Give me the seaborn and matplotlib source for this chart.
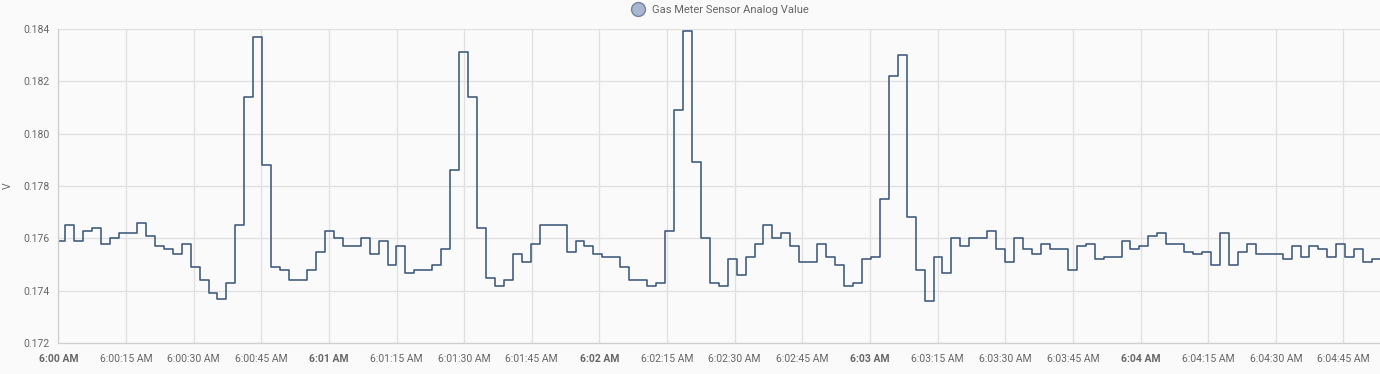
import numpy as np
import pandas as pd
import matplotlib
matplotlib.use("Agg")
import matplotlib.pyplot as plt
import seaborn as sns
from matplotlib.lines import Line2D

# ---- data ----
series_name = "Gas Meter Sensor Analog Value"
values = [
    0.1759, 0.1765, 0.1759, 0.1763, 0.1764, 0.1758, 0.1760, 0.1762, 0.1762, 0.1766,
    0.1761, 0.1757, 0.1756, 0.1754, 0.1758, 0.1749, 0.1744, 0.1739, 0.1737, 0.1743,
    0.1765, 0.1814, 0.1837, 0.1788, 0.1749, 0.1748, 0.1744, 0.1744, 0.1748, 0.1755,
    0.1763, 0.1760, 0.1757, 0.1757, 0.1760, 0.1754, 0.1759, 0.1750, 0.1757, 0.1747,
    0.1748, 0.1748, 0.1750, 0.1756, 0.1786, 0.1831, 0.1814, 0.1764, 0.1745, 0.1742,
    0.1744, 0.1754, 0.1751, 0.1758, 0.1765, 0.1765, 0.1765, 0.1755, 0.1759, 0.1757,
    0.1754, 0.1753, 0.1753, 0.1749, 0.1744, 0.1744, 0.1742, 0.1743, 0.1763, 0.1809,
    0.1839, 0.1789, 0.1760, 0.1743, 0.1742, 0.1752, 0.1746, 0.1753, 0.1758, 0.1765,
    0.1760, 0.1762, 0.1757, 0.1751, 0.1751, 0.1758, 0.1753, 0.1750, 0.1742, 0.1743,
    0.1752, 0.1753, 0.1775, 0.1822, 0.1830, 0.1768, 0.1748, 0.1736, 0.1753, 0.1747,
    0.1760, 0.1757, 0.1760, 0.1760, 0.1763, 0.1756, 0.1751, 0.1760, 0.1756, 0.1754,
    0.1758, 0.1756, 0.1756, 0.1748, 0.1757, 0.1758, 0.1752, 0.1753, 0.1753, 0.1759,
    0.1756, 0.1757, 0.1761, 0.1762, 0.1758, 0.1758, 0.1755, 0.1754, 0.1755, 0.1750,
    0.1762, 0.1750, 0.1755, 0.1758, 0.1754, 0.1754, 0.1754, 0.1752, 0.1757, 0.1753,
    0.1757, 0.1756, 0.1753, 0.1758, 0.1753, 0.1756, 0.1751, 0.1752,
]
first_change = 1.55      # seconds after 6:00:00
sample_interval = 1.985  # seconds
window_end = 293.1       # seconds shown

x_ticks = list(range(0, 286, 15))
x_labels = ["6:00 AM", "6:00:15 AM", "6:00:30 AM", "6:00:45 AM",
            "6:01 AM", "6:01:15 AM", "6:01:30 AM", "6:01:45 AM",
            "6:02 AM", "6:02:15 AM", "6:02:30 AM", "6:02:45 AM",
            "6:03 AM", "6:03:15 AM", "6:03:30 AM", "6:03:45 AM",
            "6:04 AM", "6:04:15 AM", "6:04:30 AM", "6:04:45 AM"]
y_ticks = [0.172, 0.174, 0.176, 0.178, 0.180, 0.182, 0.184]

times = [0.0] + [first_change + sample_interval * k for k in range(len(values) - 1)]
times.append(window_end)
vals = values + [values[-1]]
df = pd.DataFrame({"t": times, "v": vals})

# ---- style ----
sns.set_theme(style="whitegrid")
plt.rcParams["font.family"] = ["Roboto", "DejaVu Sans"]
bg = "#fafafa"
grid_c = "#e0e0e0"
text_c = "#666666"
line_c = "#3d5878"

fig = plt.figure(figsize=(13.8, 3.74), dpi=100, facecolor=bg)
ax = fig.add_axes([58.3 / 1380, 1 - 343.3 / 374, 1 - 58.3 / 1380, (343.3 - 28.7) / 374])
ax.set_facecolor(bg)

sns.lineplot(data=df, x="t", y="v", ax=ax, drawstyle="steps-post",
             color=line_c, linewidth=1.15, estimator=None, sort=False)

ax.set_xlim(0, window_end)
ax.set_ylim(0.172, 0.184)
ax.set_xticks(x_ticks)
ax.set_xticklabels(x_labels)
for lbl in ax.get_xticklabels():
    if lbl.get_text().count(":") == 1:
        lbl.set_fontweight("bold")
ax.set_yticks(y_ticks)
ax.set_yticklabels([f"{y:.3f}" for y in y_ticks])
ax.tick_params(axis="both", labelsize=7.5, colors=text_c, length=0, pad=6)
ax.tick_params(axis="x", pad=8)

ax.grid(True, color=grid_c, linewidth=0.9)
for side in ["top", "right"]:
    ax.spines[side].set_visible(False)
ax.spines["left"].set_color("#cfcfcf")
ax.spines["bottom"].set_color("#cfcfcf")
ax.spines["left"].set_linewidth(0.9)
ax.spines["bottom"].set_linewidth(0.9)

ax.set_xlabel("")
ax.set_ylabel("V", color=text_c, fontsize=7.5)
ax.yaxis.set_label_coords(-0.0345, 0.5)

handle = Line2D([], [], linestyle="none", marker="o", markersize=10,
                markerfacecolor="#a8b6cf", markeredgecolor="#7484a3", markeredgewidth=1)
fig.legend([handle], [series_name], loc="upper center", bbox_to_anchor=(0.52, 1.005),
           frameon=False, fontsize=8, labelcolor=text_c, handletextpad=0.3,
           borderaxespad=0.2)

fig.savefig("out.png", dpi=100, facecolor=bg)
